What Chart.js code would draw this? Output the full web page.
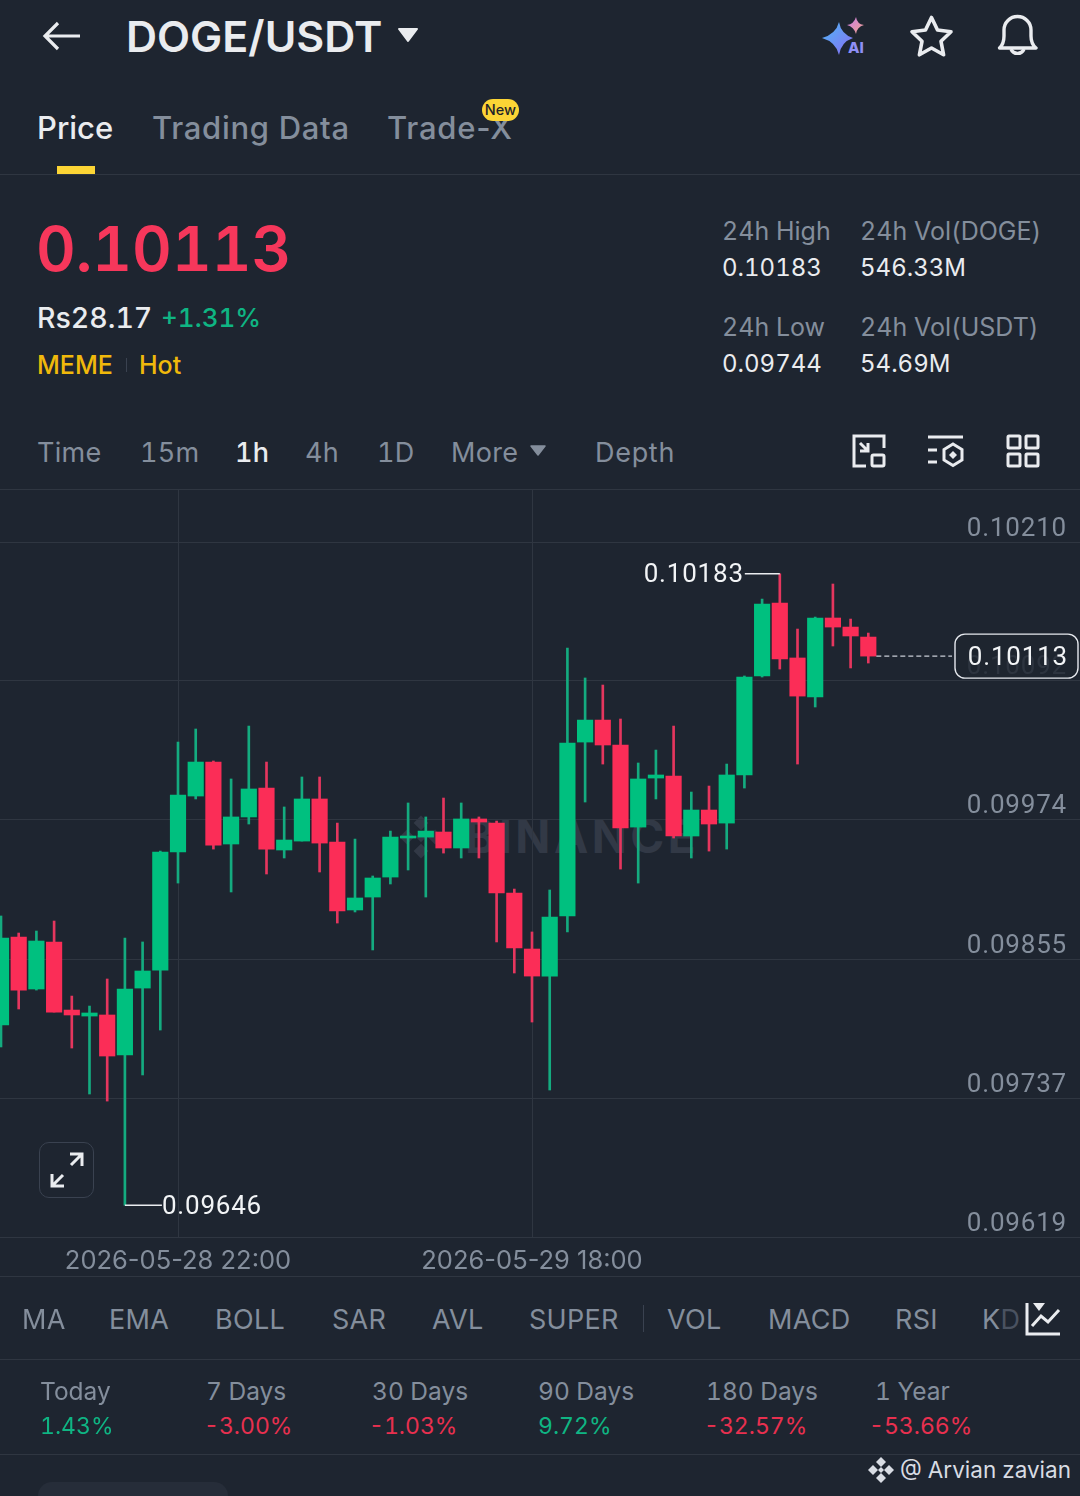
<!DOCTYPE html>
<html><head><meta charset="utf-8"><title>DOGE/USDT</title>
<script src="https://cdn.jsdelivr.net/npm/chart.js@4/dist/chart.umd.min.js"></script>
<style>
html,body{margin:0;padding:0;background:#1e2530;width:1080px;height:1496px;overflow:hidden}
body{position:relative;font-family:Inter,"Noto Sans",sans-serif;color:#848e9c;font-variant-numeric:tabular-nums}
.t{position:absolute;white-space:nowrap;transform:translateY(-50%);line-height:1}
.w{color:#eaecef}.g{color:#0fb583}.r{color:#e8304f}.y{color:#f0b90b}
.d{position:absolute;left:0;width:1080px;height:1px;background:#2f3641}
svg{position:absolute;overflow:visible}
canvas{position:absolute;left:0;top:489px;font-variant-numeric:normal}
.m{font-size:25px}.v{font-size:24px}.n{font-size:27px;letter-spacing:.3px}.s{font-size:24.5px}.p{font-size:23px}
</style></head><body>

<svg style="left:44px;top:20px" width="38" height="32" fill="none" stroke="#eaecef" stroke-width="3.2"><path d="M1 16H36M14 3L1 16L14 29"/></svg>
<div class="t w" style="left:126px;top:36px;font-size:43px;font-weight:600">DOGE/USDT</div>
<svg style="left:397px;top:28px" width="22" height="15"><path d="M2 1H20L11 13Z" fill="#eaecef" stroke="#eaecef" stroke-width="2" stroke-linejoin="round"/></svg>
<svg style="left:822px;top:16px" width="46" height="40"><defs><linearGradient id="ai" x1="0" y1="0" x2="1" y2="1"><stop offset="0" stop-color="#4db8f5"/><stop offset="1" stop-color="#8a6cf5"/></linearGradient><linearGradient id="ai2" x1="0" y1="0" x2="1" y2="1"><stop offset="0" stop-color="#c77be8"/><stop offset="1" stop-color="#f3a58c"/></linearGradient></defs>
<path d="M17 6Q19 18 31 22Q19 26 17 39Q14 26 0 22Q14 18 17 6Z" fill="url(#ai)"/><path d="M34 1Q35 8 42 9Q35 11 34 18Q32 11 25 9Q32 8 34 1Z" fill="url(#ai2)"/><text x="26" y="37" font-family="Inter" font-size="15" font-weight="800" fill="#8f8ff5">AI</text></svg>
<svg style="left:910px;top:15px" width="43" height="42" fill="none" stroke="#eaecef" stroke-width="3.6" stroke-linejoin="round"><path d="M21.5 2.5L27.5 15L41 16.8L31 26.3L33.6 39.8L21.5 33L9.4 39.8L12 26.3L2 16.8L15.5 15Z"/></svg>
<svg style="left:997px;top:14px" width="42" height="44" fill="none" stroke="#eaecef" stroke-width="3.4" stroke-linejoin="round"><path d="M2.5 34Q7 30 7 22V16A13.500 13.500 0 0 1 34 16V22Q34 30 39 34Z"/><path d="M14 35A7 7 0 0 0 27 35"/></svg>

<div class="t w" style="left:37px;top:127px;font-size:31px;font-weight:500">Price</div>
<div class="t" style="left:152px;top:127px;font-size:31px;font-weight:500;letter-spacing:.7px;color:#848e9c">Trading Data</div>
<div class="t" style="left:387px;top:127px;font-size:31px;font-weight:500;letter-spacing:.8px;color:#848e9c;font-variant-numeric:normal">Trade-X</div>
<div class="t" style="left:482px;top:110px;width:37px;height:22px;background:#fcd535;border-radius:11px;color:#1e2329;font-size:14.500px;font-weight:500;text-align:center;line-height:21px">New</div>
<div style="position:absolute;left:57px;top:166px;width:38px;height:8px;background:#fcd535"></div>
<div class="d" style="top:174px"></div>

<div class="t" style="left:36px;top:249px;font-size:61.5px;font-weight:600;color:#f6375b">0.10113</div>
<div class="t w" style="left:37px;top:318px;font-size:28.5px;font-weight:500">Rs28.17</div>
<div class="t g" style="left:161px;top:318px;font-size:26px;font-weight:500">+1.31%</div>
<div class="t y" style="left:37px;top:365px;font-size:25px;font-weight:500">MEME</div>
<div style="position:absolute;left:126px;top:358px;width:1px;height:14px;background:#3a4250"></div>
<div class="t y" style="left:139px;top:365px;font-size:25px;font-weight:500">Hot</div>

<div class="t m" style="left:722px;top:231px">24h High</div>
<div class="t v w" style="left:722px;top:268px">0.10183</div>
<div class="t m" style="left:860px;top:231px">24h Vol(DOGE)</div>
<div class="t v w" style="left:860px;top:268px">546.33M</div>
<div class="t m" style="left:722px;top:327px">24h Low</div>
<div class="t v w" style="left:722px;top:364px">0.09744</div>
<div class="t m" style="left:860px;top:327px">24h Vol(USDT)</div>
<div class="t v w" style="left:860px;top:364px">54.69M</div>

<div class="t n" style="left:37px;top:452px">Time</div>
<div class="t n" style="left:140px;top:452px">15m</div>
<div class="t n w" style="left:235px;top:452px;font-weight:500">1h</div>
<div class="t n" style="left:305px;top:452px">4h</div>
<div class="t n" style="left:377px;top:452px">1D</div>
<div class="t n" style="left:451px;top:452px">More</div>
<svg style="left:529px;top:445px" width="18" height="12"><path d="M2 1H16L9 10Z" fill="#848e9c" stroke="#848e9c" stroke-width="1.500" stroke-linejoin="round"/></svg>
<div class="t n" style="left:595px;top:452px;letter-spacing:.7px">Depth</div>
<svg style="left:852px;top:434px" width="34" height="34" fill="none" stroke="#eaecef" stroke-width="3"><path d="M32 14V2H2V32H14"/><rect x="20" y="21" width="12" height="11" rx="1.500"/><path d="M8 9L16 17M8 17H16V9"/></svg>
<svg style="left:928px;top:435px" width="36" height="34" fill="none" stroke="#eaecef" stroke-width="3"><path d="M0 2H35M0 15H9M0 27H9"/><path d="M25 9L34 14.500V25L25 30.500L16 25V14.500Z"/><path d="M25 16L29 20L25 24L21 20Z" fill="#eaecef" stroke="none"/></svg>
<svg style="left:1006px;top:434px" width="34" height="34" fill="none" stroke="#eaecef" stroke-width="3"><rect x="2" y="2" width="12" height="12" rx="1"/><rect x="20" y="2" width="12" height="12" rx="1"/><rect x="2" y="20" width="12" height="12" rx="1"/><rect x="20" y="20" width="12" height="12" rx="1"/></svg>

<div class="d" style="top:489px"></div>
<svg style="left:398px;top:814px" width="46" height="46" viewBox="0 0 62 62"><g fill="#323946"><path d="M31 2L41 12L31 22L21 12Z"/><path d="M31 40L41 50L31 60L21 50Z"/><path d="M12 21L22 31L12 41L2 31Z"/><path d="M50 21L60 31L50 41L40 31Z"/><path d="M31 24L38 31L31 38L24 31Z"/></g></svg>
<div class="t" style="left:465px;top:836px;font-size:46px;font-weight:700;letter-spacing:3.500px;color:#323946">BINANCE</div>

<canvas id="chart" width="1080" height="788"></canvas>

<div style="position:absolute;left:39px;top:1142px;width:53px;height:54px;border:1.500px solid #3a4250;border-radius:10px"></div>
<svg style="left:49px;top:1152px" width="36" height="36" fill="none" stroke="#eaecef" stroke-width="3"><path d="M21 2H33V14M33 2L22 13M15 34H3V22M3 34L14 23"/></svg>

<div class="d" style="top:1276px"></div>
<div class="t n" style="left:22px;top:1319px">MA</div>
<div class="t n" style="left:109px;top:1319px">EMA</div>
<div class="t n" style="left:215px;top:1319px">BOLL</div>
<div class="t n" style="left:332px;top:1319px">SAR</div>
<div class="t n" style="left:432px;top:1319px">AVL</div>
<div class="t n" style="left:529px;top:1319px">SUPER</div>
<div style="position:absolute;left:643px;top:1305px;width:1px;height:27px;background:#3a4250"></div>
<div class="t n" style="left:667px;top:1319px">VOL</div>
<div class="t n" style="left:768px;top:1319px">MACD</div>
<div class="t n" style="left:895px;top:1319px">RSI</div>
<div class="t n" style="left:982px;top:1319px">K<span style="color:#4a5260">D</span></div>
<svg style="left:1025px;top:1302px" width="36" height="34" fill="none" stroke="#eaecef" stroke-width="3"><path d="M2 1V32H35M7 24L16 14L23 20L34 8"/><path d="M8 1H20L14 9Z" fill="#eaecef" stroke="none"/></svg>
<div class="d" style="top:1359px"></div>

<div class="t s" style="left:40px;top:1391px">Today</div><div class="t p g" style="left:40px;top:1426px">1.43%</div>
<div class="t s" style="left:206px;top:1391px">7 Days</div><div class="t p r" style="left:204px;top:1426px">-3.00%</div>
<div class="t s" style="left:372px;top:1391px">30 Days</div><div class="t p r" style="left:369px;top:1426px">-1.03%</div>
<div class="t s" style="left:538px;top:1391px">90 Days</div><div class="t p g" style="left:538px;top:1426px">9.72%</div>
<div class="t s" style="left:706px;top:1391px">180 Days</div><div class="t p r" style="left:704px;top:1426px">-32.57%</div>
<div class="t s" style="left:875px;top:1391px">1 Year</div><div class="t p r" style="left:869px;top:1426px">-53.66%</div>
<div class="d" style="top:1454px"></div>
<div style="position:absolute;left:38px;top:1482px;width:190px;height:30px;background:#262d39;border-radius:14px 14px 0 0"></div>
<svg style="left:867px;top:1456px" width="28" height="28"><g fill="#d8dce3"><path d="M14 1L19 6L14 11L9 6Z"/><path d="M14 17L19 22L14 27L9 22Z"/><path d="M6 9L11 14L6 19L1 14Z"/><path d="M22 9L27 14L22 19L17 14Z"/><path d="M14 11L17 14L14 17L11 14Z"/></g></svg>
<div class="t" style="right:9px;top:1470px;font-size:22.5px;color:#d8dce3">@ Arvian zavian</div>

<script>
const opens  = [0.097993,0.098741,0.098299,0.098699,0.098120,0.098069,0.098078,0.097738,0.098307,0.098460,0.099464,0.099940,0.100229,0.099532,0.099762,0.100008,0.099481,0.099557,0.099915,0.099549,0.098971,0.099081,0.099251,0.099583,0.099591,0.099634,0.099498,0.099745,0.099710,0.099115,0.098639,0.098409,0.098920,0.100399,0.100586,0.100374,0.099676,0.100093,0.100110,0.099600,0.099821,0.099710,0.100119,0.100961,0.101581,0.101114,0.100782,0.101454,0.101377,0.101292];
const closes = [0.098733,0.098290,0.098707,0.098103,0.098078,0.098095,0.097729,0.098299,0.098452,0.099464,0.099949,0.100229,0.099523,0.099762,0.100000,0.099489,0.099566,0.099915,0.099540,0.098962,0.099073,0.099243,0.099591,0.099600,0.099642,0.099498,0.099745,0.099719,0.099115,0.098648,0.098409,0.098911,0.100391,0.100586,0.100374,0.099668,0.100085,0.100119,0.099600,0.099821,0.099702,0.100119,0.100952,0.101573,0.101105,0.100790,0.101454,0.101377,0.101301,0.101130];
const highs  = [0.098920,0.098775,0.098792,0.098877,0.098239,0.098154,0.098384,0.098733,0.098699,0.099472,0.100399,0.100510,0.100238,0.100085,0.100535,0.100229,0.099847,0.100102,0.100102,0.099710,0.099574,0.099260,0.099642,0.099881,0.099762,0.099923,0.099881,0.099762,0.099727,0.099149,0.098784,0.099141,0.101199,0.100944,0.100884,0.100595,0.100221,0.100331,0.100535,0.099974,0.100025,0.100212,0.100961,0.101615,0.101830,0.101360,0.101462,0.101743,0.101445,0.101326];
const lows   = [0.097806,0.098129,0.098290,0.098103,0.097797,0.097406,0.097346,0.096460,0.097568,0.097950,0.099200,0.099915,0.099489,0.099124,0.099702,0.099277,0.099413,0.099557,0.099294,0.098860,0.098954,0.098631,0.099192,0.099311,0.099081,0.099455,0.099413,0.099413,0.098699,0.098435,0.098018,0.097440,0.098784,0.099889,0.100212,0.099319,0.099200,0.099915,0.099583,0.099413,0.099472,0.099489,0.100008,0.100952,0.101020,0.100212,0.100697,0.101216,0.101029,0.101071];
const yTickValues = [0.10210,0.10092,0.09974,0.09855,0.09737,0.09619];
const xTickIndex = [10,30];
const xTickLabels = ["2026-05-28 22:00","2026-05-29 18:00"];
const lastPrice = 0.10113, dayHigh = 0.10183, dayLow = 0.09646;
const highIndex = 44, lowIndex = 7, lastIndex = 49;

const GREEN='#00c07f', RED='#fb2d57', GREENW='#14ab7f', REDW='#e5365e';
const isUp = i => closes[i] >= opens[i];
const noPadding = s => {s.paddingTop=0;s.paddingBottom=0;s.paddingLeft=0;s.paddingRight=0;};

const annotations = {
  id:'annotations',
  beforeDatasetsDraw(c){ c.ctx.letterSpacing='0.8px'; },
  afterDraw(c){
    const {ctx, scales:{x,y}} = c;
    ctx.save();
    ctx.font = '26px Roboto';
    ctx.textBaseline = 'middle';
    ctx.strokeStyle = '#eaecef'; ctx.fillStyle = '#f2f4f6'; ctx.lineWidth = 1.4;
    // high marker
    const hx = x.getPixelForValue(highIndex), hy = y.getPixelForValue(dayHigh);
    ctx.beginPath(); ctx.moveTo(hx,hy); ctx.lineTo(hx-35,hy); ctx.stroke();
    ctx.textAlign='right'; ctx.fillText(dayHigh.toFixed(5), hx-36, hy+2);
    // low marker
    const lx = x.getPixelForValue(lowIndex), ly = y.getPixelForValue(dayLow);
    ctx.beginPath(); ctx.moveTo(lx,ly); ctx.lineTo(lx+37,ly); ctx.stroke();
    ctx.textAlign='left'; ctx.fillText(dayLow.toFixed(5), lx+37, ly+2);
    // last price
    const px = x.getPixelForValue(lastIndex)+8, py = y.getPixelForValue(lastPrice);
    ctx.setLineDash([5,3]); ctx.strokeStyle='#c9ced6';
    ctx.beginPath(); ctx.moveTo(px,py); ctx.lineTo(952,py); ctx.stroke();
    ctx.setLineDash([]);
    ctx.beginPath(); ctx.roundRect(955,py-22,123,44,10);
    ctx.fillStyle='rgba(30,37,48,.86)'; ctx.fill();
    ctx.strokeStyle='#e6e9ee'; ctx.lineWidth=1.4; ctx.stroke();
    ctx.fillStyle='#f2f4f6'; ctx.textAlign='right'; ctx.fillText(lastPrice.toFixed(5),1068,py+2);
    ctx.restore();
  }
};

new Chart(document.getElementById('chart'),{
  type:'bar',
  data:{datasets:[
    {label:'Body', barThickness:15.5, grouped:false, borderWidth:0, borderSkipped:false,
     data:opens.map((o,i)=>({x:i,y:[o,closes[i]]})),
     backgroundColor:opens.map((o,i)=>isUp(i)?GREEN:RED)},
    {label:'Wick', barThickness:2, grouped:false, borderWidth:0, borderSkipped:false,
     data:lows.map((l,i)=>({x:i,y:[l,highs[i]]})),
     backgroundColor:lows.map((l,i)=>isUp(i)?GREENW:REDW)}
  ]},
  options:{
    responsive:false, animation:false, devicePixelRatio:1,
    layout:{padding:0},
    plugins:{legend:{display:false},tooltip:{enabled:false}},
    scales:{
      x:{type:'linear',bounds:'data',offset:false,min:-0.0565,max:60.96,
         grid:{offset:false,color:'#2f3641',lineWidth:1,drawTicks:false},
         border:{display:false},
         afterBuildTicks:s=>{s.ticks=xTickIndex.map(v=>({value:v}));},
         afterFit:s=>{s.height=40;noPadding(s);},
         ticks:{autoSkip:false,maxRotation:0,padding:9,color:'#848e9c',font:{family:'Inter',size:25.5},
                callback:v=>xTickLabels[xTickIndex.indexOf(v)]}},
      y:{position:'right',bounds:'data',min:0.09619,max:0.102551,
         grid:{color:'#2f3641',lineWidth:1,drawTicks:false},
         border:{display:false},
         afterBuildTicks:s=>{s.ticks=yTickValues.map(v=>({value:v}));},
         afterFit:s=>{s.width=0;noPadding(s);},
         ticks:{z:1,mirror:true,padding:-13,labelOffset:-13,color:'#848e9c',font:{family:'Roboto',size:26},
                callback:v=>v.toFixed(5)}}
    }
  },
  plugins:[annotations]
});
</script>
</body></html>
